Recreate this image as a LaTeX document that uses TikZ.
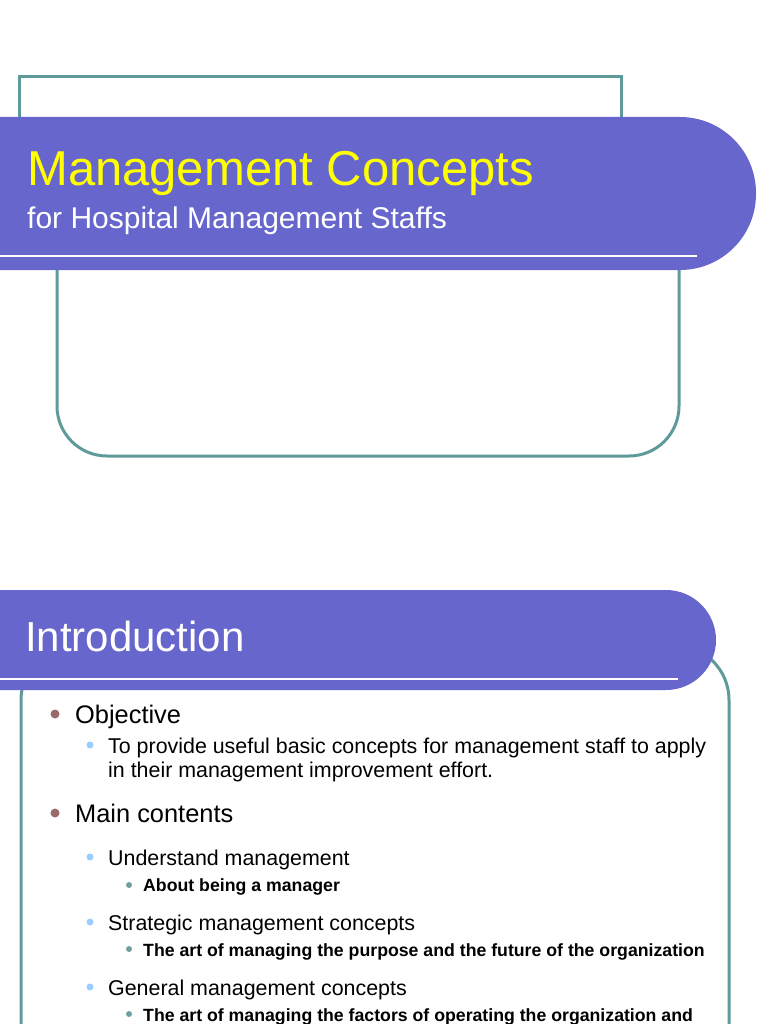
\documentclass[tikz,border=0pt]{standalone}
\usepackage{fontspec}
\setmainfont{Liberation Sans}
\definecolor{band}{HTML}{6666CC}
\definecolor{teal}{HTML}{5F9A9A}
\definecolor{bul1}{HTML}{9A6A6A}
\definecolor{bul2}{HTML}{99CCFF}
\definecolor{bul3}{HTML}{6F9F9F}
\definecolor{ttl}{HTML}{FFFF00}
\begin{document}
\begin{tikzpicture}[x=1pt,y=-1pt,
  outline/.style={draw=teal,line width=3pt},
  txt/.style={anchor=base west,inner sep=0pt},
  l1/.style={txt,font=\fontsize{25.4}{28}\selectfont},
  l2/.style={txt,font=\fontsize{21.4}{24}\selectfont,align=left},
  l3/.style={txt,font=\fontsize{17.7}{20}\selectfont\bfseries}]
\useasboundingbox (0,0) rectangle (768,1024);
% slide 1
\draw[outline] (19,77) rectangle (621,200);
\draw[outline,rounded corners=50] (57,200) -- (57,456) -- (679,456) -- (679,200);
\fill[band,rounded corners=76] (-100,117) rectangle (756,270);
\draw[white,line width=2.5pt] (0,256) -- (697,256);
\node[txt,text=ttl,font=\fontsize{49}{52}\selectfont] (t1) at (27,186) {Management Concepts};
\node[txt,text=white,font=\fontsize{30}{33}\selectfont] (t2) at (27,229) {for Hospital Management Staffs};
% slide 2
\draw[outline,rounded corners=55] (21,1100) -- (21,645) -- (729,645) -- (729,1100);
\fill[band,rounded corners=50] (-100,590) rectangle (716,690);
\draw[white,line width=2.5pt] (0,679) -- (678,679);
\node[txt,text=white,font=\fontsize{42}{46}\selectfont] (t3) at (25,651) {Introduction};
\fill[bul1] (55,714) circle (4.5); \fill[bul1] (55,813) circle (4.5);
\node[l1] (a) at (75,723) {Objective};
\node[l1] (b) at (75,822) {Main contents};
\fill[bul2] (90,745) circle (3.5);
\fill[bul2] (90,857) circle (3.5);
\fill[bul2] (90,922) circle (3.5);
\fill[bul2] (90,987) circle (3.5);
\node[l2] (a1) at (108,753) {To provide useful basic concepts for management staff to apply};
\node[l2] (a2) at (108,777) {in their management improvement effort.};
\node[l2] (b1) at (108,865) {Understand management};
\node[l2] (b2) at (108,930) {Strategic management concepts};
\node[l2] (b3) at (108,995) {General management concepts};
\fill[bul3] (129,885) circle (3); \fill[bul3] (129,949) circle (3); \fill[bul3] (129,1014) circle (3);
\node[l3] (c1) at (143,891) {About being a manager};
\node[l3] (c2) at (143,956) {The art of managing the purpose and the future of the organization};
\node[l3] (c3) at (143,1021) {The art of managing the factors of operating the organization and};
\end{tikzpicture}
\end{document}
